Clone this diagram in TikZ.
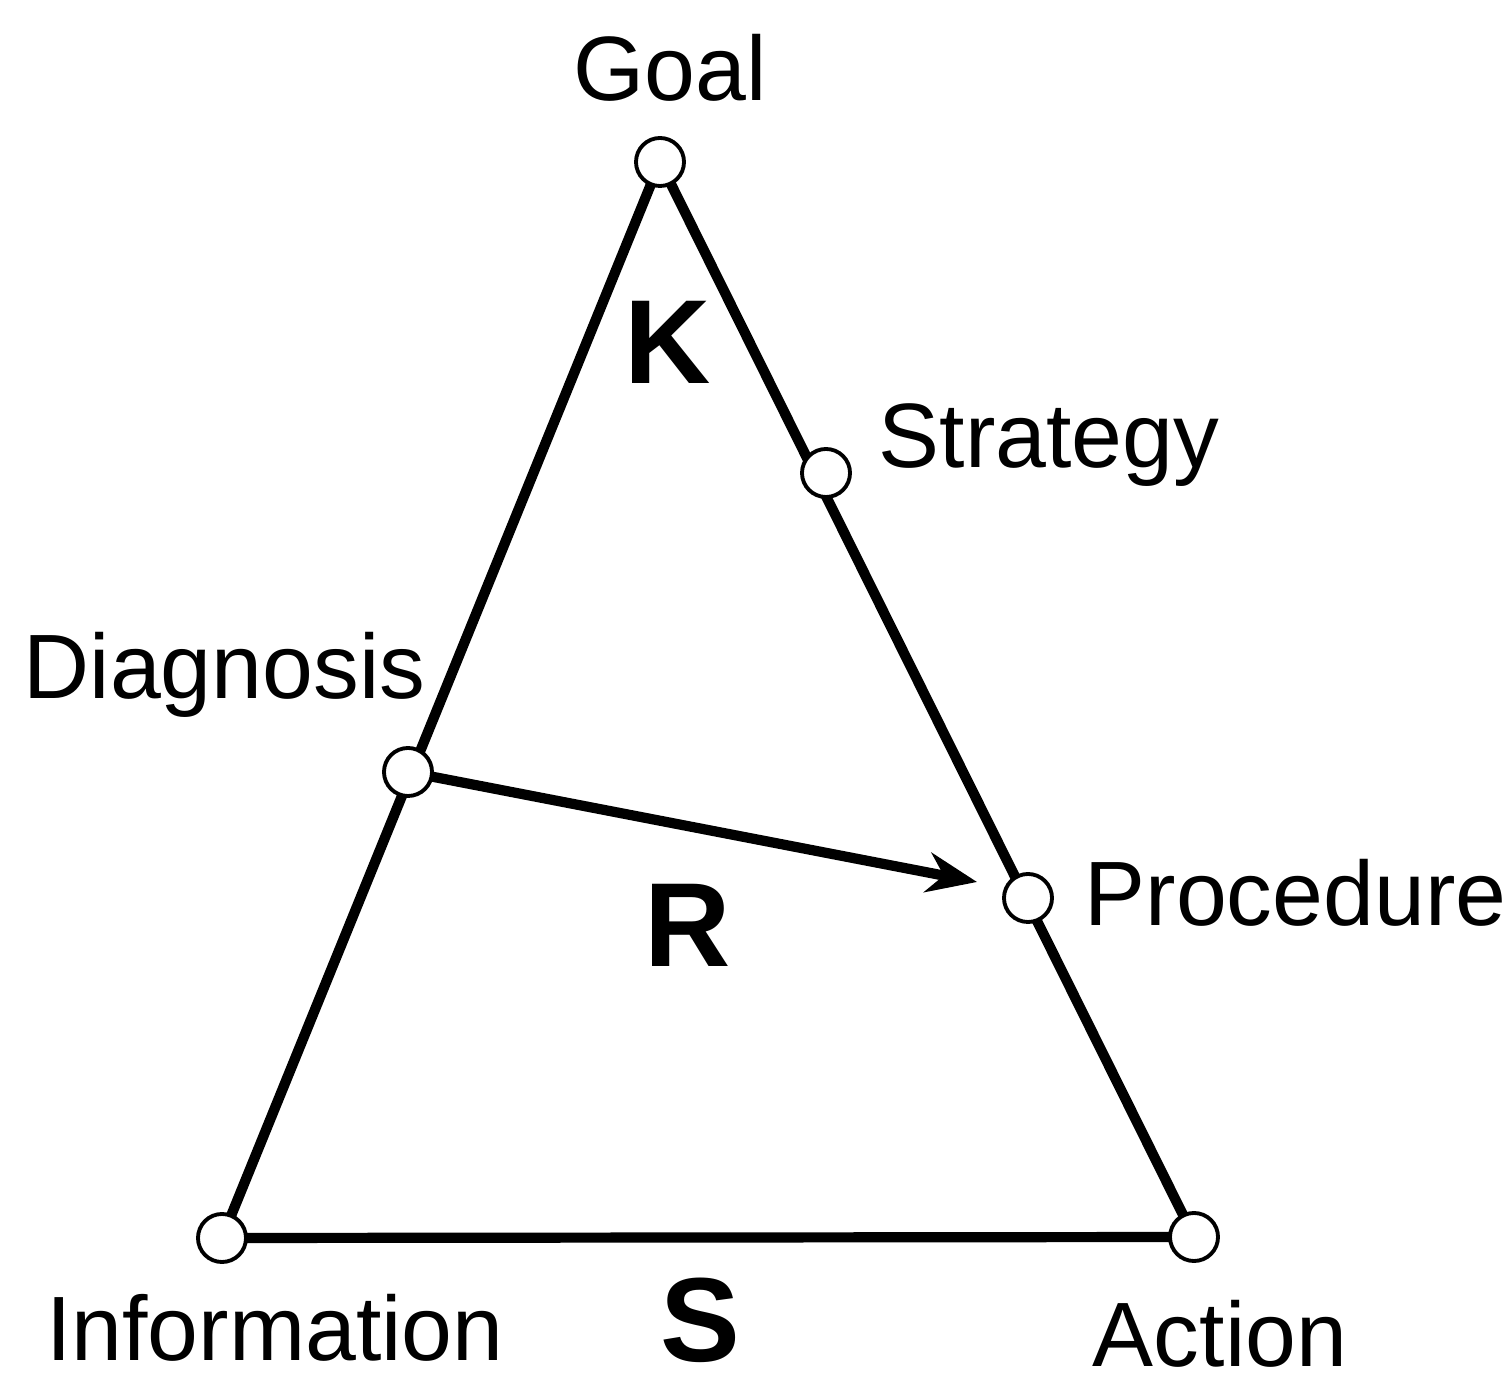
\documentclass[tikz,border=0pt]{standalone}
\usepackage{fontspec}
\setmainfont{Liberation Sans}
\usetikzlibrary{arrows.meta}
\begin{document}
\begin{tikzpicture}[x=0.01cm,y=-0.01cm,
  pt/.style={circle,draw,line width=1.1pt,fill=white,minimum size=0.48cm,inner sep=0pt},
  edge/.style={line width=2.9pt},
  lbl/.style={font=\fontsize{26}{28}\selectfont,inner sep=0pt},
  big/.style={font=\fontsize{34}{36}\selectfont\bfseries,inner sep=0pt}]
\useasboundingbox (0,0) rectangle (1512,1380);
\coordinate (g) at (660,162);
\coordinate (s) at (826,473);
\coordinate (d) at (408,772);
\coordinate (p) at (1028,898);
\coordinate (i) at (222,1238);
\coordinate (a) at (1194,1237);
\draw[edge] (g) -- (i) -- (a) -- cycle;
\coordinate (tip) at (977,882);
\draw[edge,-{Stealth[length=0.5cm,width=0.4cm]}] (d) -- (tip);
\foreach \n in {g,s,d,p,i,a} \node[pt] (\n c) at (\n) {};
\node[lbl] (gl) at (670,68) {Goal};
\node[lbl,anchor=west] (sl) at (878,445) {Strategy};
\node[lbl,anchor=east] (dl) at (426,675) {Diagnosis};
\node[lbl,anchor=west] (pl) at (1084,893) {Procedure};
\node[lbl] (il) at (275,1328) {Information};
\node[lbl] (al) at (1220,1334) {Action};
\node[big] (k) at (668,342) {K};
\node[big] (r) at (688,925) {R};
\node[big] (sb) at (700,1320) {S};
\end{tikzpicture}
\end{document}
